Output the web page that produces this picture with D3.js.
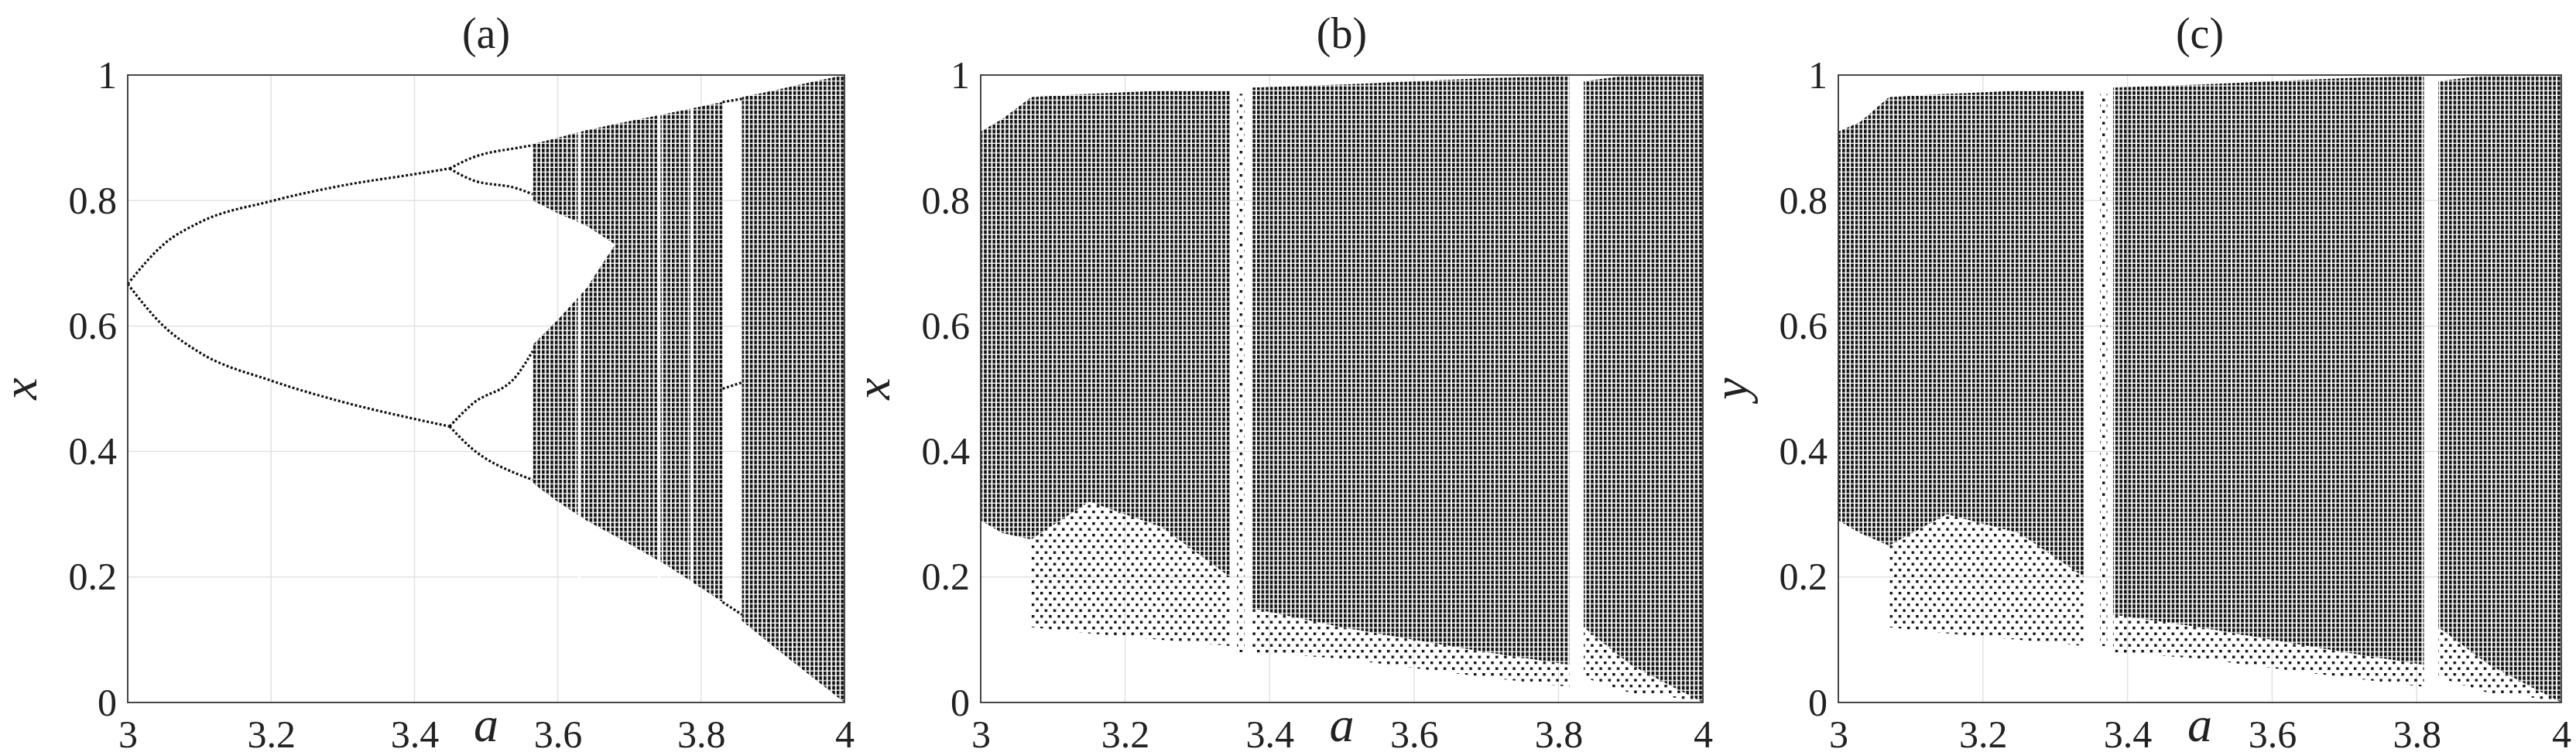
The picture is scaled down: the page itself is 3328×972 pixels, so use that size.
<!DOCTYPE html>
<html>
<head>
<meta charset="utf-8">
<script src="https://cdn.jsdelivr.net/npm/d3@7"></script>
<style>
  body { margin: 0; background: #fff; }
  text { font-family: "Liberation Serif", "DejaVu Serif", serif; fill: #222; }
</style>
</head>
<body>
<svg id="chart" width="3328" height="972"></svg>
<script>
// ---- values ----
const xTicks = [3, 3.2, 3.4, 3.6, 3.8, 4];
const yTicks = [0, 0.2, 0.4, 0.6, 0.8, 1];

// (a) periodic branches: [a, x]
const aPeriod2Upper = [[3.0, 0.667], [3.05, 0.73], [3.1, 0.765], [3.2, 0.799], [3.3, 0.824], [3.4, 0.842], [3.449, 0.851]];
const aPeriod2Lower = [[3.0, 0.667], [3.05, 0.60], [3.1, 0.558], [3.2, 0.513], [3.3, 0.479], [3.4, 0.452], [3.449, 0.44]];
const aPeriod4 = [
  [[3.449, 0.851], [3.48, 0.868], [3.544, 0.884], [3.565, 0.888]],
  [[3.449, 0.851], [3.48, 0.833], [3.544, 0.819], [3.565, 0.81]],
  [[3.449, 0.44], [3.48, 0.475], [3.544, 0.523], [3.565, 0.56]],
  [[3.449, 0.44], [3.48, 0.405], [3.544, 0.364], [3.565, 0.355]]
];
const aWindowPoints = [[[3.83, 0.957], [3.857, 0.962]], [[3.83, 0.5], [3.857, 0.51]], [[3.83, 0.16], [3.857, 0.14]]];
// (a) chaotic bands: a, lower edge, upper edge
const aBands = [
  { a: [3.565, 3.6, 3.64, 3.68], lo: [0.80, 0.78, 0.76, 0.73], hi: [0.89, 0.90, 0.912, 0.922] },
  { a: [3.565, 3.6, 3.64, 3.68], lo: [0.35, 0.32, 0.29, 0.265], hi: [0.57, 0.61, 0.66, 0.73] },
  { a: [3.68, 3.75, 3.83], lo: [0.265, 0.22, 0.16], hi: [0.922, 0.938, 0.957] },
  { a: [3.857, 3.9, 3.95, 4.0], lo: [0.13, 0.09, 0.045, 0.0], hi: [0.965, 0.975, 0.988, 1.0] }
];
const aGaps = [3.628, 3.739, 3.785];

// (b) dense and sparse regions
const bDense = [
  { a: [3.0, 3.03, 3.07, 3.15, 3.25, 3.345], lo: [0.29, 0.27, 0.26, 0.32, 0.28, 0.2], hi: [0.91, 0.93, 0.965, 0.97, 0.975, 0.975] },
  { a: [3.375, 3.5, 3.6, 3.7, 3.815], lo: [0.15, 0.12, 0.1, 0.08, 0.06], hi: [0.98, 0.985, 0.99, 0.995, 0.998] },
  { a: [3.835, 3.9, 3.95, 4.0], lo: [0.12, 0.06, 0.03, 0.0], hi: [0.99, 1.0, 1.0, 1.0] }
];
const bSparse = [
  { a: [3.07, 3.15, 3.25, 3.345], lo: [0.12, 0.11, 0.1, 0.09], hi: [0.26, 0.32, 0.28, 0.2] },
  { a: [3.375, 3.5, 3.6, 3.7, 3.815], lo: [0.08, 0.07, 0.055, 0.04, 0.025], hi: [0.15, 0.12, 0.1, 0.08, 0.06] },
  { a: [3.835, 3.9, 3.95, 4.0], lo: [0.04, 0.015, 0.01, 0.0], hi: [0.12, 0.06, 0.03, 0.0] },
  { a: [3.355, 3.365], lo: [0.08, 0.08], hi: [0.97, 0.97] }
];

// (c) dense and sparse regions
const cDense = [
  { a: [3.0, 3.03, 3.07, 3.15, 3.25, 3.34], lo: [0.29, 0.27, 0.25, 0.3, 0.27, 0.2], hi: [0.91, 0.925, 0.965, 0.97, 0.975, 0.975] },
  { a: [3.38, 3.5, 3.6, 3.7, 3.81], lo: [0.14, 0.12, 0.1, 0.08, 0.06], hi: [0.98, 0.985, 0.99, 0.995, 0.998] },
  { a: [3.83, 3.9, 3.95, 4.0], lo: [0.12, 0.06, 0.03, 0.0], hi: [0.99, 1.0, 1.0, 1.0] }
];
const cSparse = [
  { a: [3.07, 3.15, 3.25, 3.34], lo: [0.12, 0.11, 0.1, 0.09], hi: [0.25, 0.3, 0.27, 0.2] },
  { a: [3.38, 3.5, 3.6, 3.7, 3.81], lo: [0.08, 0.07, 0.055, 0.04, 0.025], hi: [0.14, 0.12, 0.1, 0.08, 0.06] },
  { a: [3.83, 3.9, 3.95, 4.0], lo: [0.04, 0.015, 0.01, 0.0], hi: [0.12, 0.06, 0.03, 0.0] },
  { a: [3.362, 3.372], lo: [0.09, 0.09], hi: [0.97, 0.97] }
];

const panels = [
  { title: "(a)", yLabel: "x", left: 165, right: 1091, dense: aBands, sparse: [], gaps: aGaps, curves: [aPeriod2Upper, aPeriod2Lower, ...aPeriod4, ...aWindowPoints] },
  { title: "(b)", yLabel: "x", left: 1267, right: 2200, dense: bDense, sparse: bSparse, gaps: [], curves: [] },
  { title: "(c)", yLabel: "y", left: 2375, right: 3309, dense: cDense, sparse: cSparse, gaps: [], curves: [] }
];
const plotTop = 97, plotBottom = 908;

const svg = d3.select("#chart");
const defs = svg.append("defs");

// speckled column textures
const dense = defs.append("pattern").attr("id", "dense").attr("patternUnits", "userSpaceOnUse")
  .attr("width", 5.6).attr("height", 6.2);
dense.append("rect").attr("width", 3.6).attr("height", 4.9).attr("fill", "#111");
const sparse = defs.append("pattern").attr("id", "sparse").attr("patternUnits", "userSpaceOnUse")
  .attr("width", 11.2).attr("height", 15);
sparse.append("rect").attr("width", 3.4).attr("height", 3.4).attr("fill", "#111");
sparse.append("rect").attr("x", 5.6).attr("y", 7.5).attr("width", 3.4).attr("height", 3.4).attr("fill", "#111");

panels.forEach(p => {
  const x = d3.scaleLinear().domain([3, 4]).range([p.left, p.right]);
  const y = d3.scaleLinear().domain([0, 1]).range([plotBottom, plotTop]);
  const g = svg.append("g");

  // grid
  g.selectAll(".gx").data(xTicks.slice(1, -1)).join("line")
    .attr("x1", d => x(d)).attr("x2", d => x(d)).attr("y1", plotTop).attr("y2", plotBottom)
    .attr("stroke", "#e2e2e2").attr("stroke-width", 1.5);
  g.selectAll(".gy").data(yTicks.slice(1, -1)).join("line")
    .attr("y1", d => y(d)).attr("y2", d => y(d)).attr("x1", p.left).attr("x2", p.right)
    .attr("stroke", "#e2e2e2").attr("stroke-width", 1.5);

  const area = d3.area().x(d => x(d.a)).y0(d => y(d.lo)).y1(d => y(d.hi));
  const toRows = b => b.a.map((a, i) => ({ a, lo: b.lo[i], hi: b.hi[i] }));

  p.sparse.forEach(b => g.append("path").attr("d", area(toRows(b))).attr("fill", "url(#sparse)"));
  p.dense.forEach(b => g.append("path").attr("d", area(toRows(b))).attr("fill", "url(#dense)"));

  p.gaps.forEach(a => g.append("rect").attr("x", x(a)).attr("width", 4)
    .attr("y", plotTop).attr("height", plotBottom - plotTop).attr("fill", "#fff"));

  const line = d3.line().x(d => x(d[0])).y(d => y(d[1])).curve(d3.curveMonotoneX);
  p.curves.forEach(c => g.append("path").attr("d", line(c)).attr("fill", "none")
    .attr("stroke", "#111").attr("stroke-width", 3.2).attr("stroke-dasharray", "3 2.6"));

  // frame
  g.append("rect").attr("x", p.left).attr("y", plotTop).attr("width", p.right - p.left).attr("height", plotBottom - plotTop)
    .attr("fill", "none").attr("stroke", "#333").attr("stroke-width", 1.8);

  const xa = g.append("g").attr("transform", `translate(0,${plotBottom})`)
    .call(d3.axisBottom(x).tickValues(xTicks).tickFormat(d3.format("")).tickSize(0).tickPadding(22));
  const ya = g.append("g").attr("transform", `translate(${p.left},0)`)
    .call(d3.axisLeft(y).tickValues(yTicks).tickFormat(d3.format("")).tickSize(0).tickPadding(14));
  [xa, ya].forEach(ax => {
    ax.select(".domain").remove();
    ax.selectAll("text").attr("font-size", 50).attr("fill", "#222")
      .attr("font-family", "Liberation Serif, serif");
  });

  g.append("text").attr("x", (p.left + p.right) / 2).attr("y", 62).attr("text-anchor", "middle")
    .attr("font-size", 56).text(p.title);
  g.append("text").attr("x", (p.left + p.right) / 2).attr("y", 958).attr("text-anchor", "middle")
    .attr("font-size", 64).attr("font-style", "italic").text("a");
  g.append("text").attr("transform", `translate(${p.left - 118},${(plotTop + plotBottom) / 2}) rotate(-90)`)
    .attr("text-anchor", "middle").attr("font-size", 64).attr("font-style", "italic").text(p.yLabel);
});
</script>
</body>
</html>
